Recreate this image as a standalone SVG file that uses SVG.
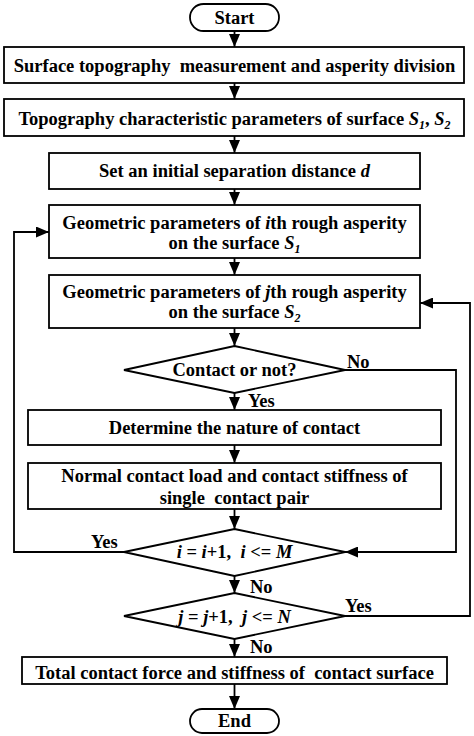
<svg xmlns="http://www.w3.org/2000/svg" width="474" height="736" viewBox="0 0 474 736">
<defs>
<style>
.b{fill:#fff;stroke:#000;stroke-width:1.8}
.t{font-family:"Liberation Serif","Times New Roman",serif;font-weight:bold;font-size:18.5px;fill:#000;text-anchor:middle}
.l{font-family:"Liberation Serif","Times New Roman",serif;font-weight:bold;font-size:18.5px;fill:#000}
.c{fill:none;stroke:#000;stroke-width:1.8}
.i{font-style:italic}
.s{font-size:12px;font-style:italic}
</style>
<marker id="ah" viewBox="0 0 13 11" refX="13" refY="5.5" markerWidth="13" markerHeight="11" markerUnits="userSpaceOnUse" orient="auto">
<path d="M0,0 L13,5.5 L0,11 z" fill="#000"/>
</marker>
</defs>
<rect width="474" height="736" fill="#fff"/>
<g id="connectors">
<line class="c" x1="234.5" y1="31" x2="234.5" y2="47" marker-end="url(#ah)"/>
<line class="c" x1="234.5" y1="83" x2="234.5" y2="99" marker-end="url(#ah)"/>
<line class="c" x1="234.5" y1="136" x2="234.5" y2="153" marker-end="url(#ah)"/>
<line class="c" x1="234.5" y1="189" x2="234.5" y2="205" marker-end="url(#ah)"/>
<line class="c" x1="234.5" y1="258" x2="234.5" y2="275" marker-end="url(#ah)"/>
<line class="c" x1="234.5" y1="328" x2="234.5" y2="346" marker-end="url(#ah)"/>
<line class="c" x1="234.5" y1="393" x2="234.5" y2="410" marker-end="url(#ah)"/>
<line class="c" x1="234.5" y1="445" x2="234.5" y2="463" marker-end="url(#ah)"/>
<line class="c" x1="234.5" y1="509" x2="234.5" y2="529" marker-end="url(#ah)"/>
<line class="c" x1="234.5" y1="576" x2="234.5" y2="593" marker-end="url(#ah)"/>
<line class="c" x1="234.5" y1="639" x2="234.5" y2="657" marker-end="url(#ah)"/>
<line class="c" x1="234.5" y1="684" x2="234.5" y2="709" marker-end="url(#ah)"/>
<polyline class="c" points="345,370 456,370 456,552 345,552" marker-end="url(#ah)"/>
<polyline class="c" points="124,552 14,552 14,232 49,232" marker-end="url(#ah)"/>
<polyline class="c" points="345,616 470,616 470,303 420,303" marker-end="url(#ah)"/>
<text class="l" x="347" y="368">No</text>
<text class="l" x="248" y="406.5">Yes</text>
<text class="l" x="91" y="548">Yes</text>
<text class="l" x="250" y="593">No</text>
<text class="l" x="345" y="612">Yes</text>
<text class="l" x="250" y="653">No</text>
</g>
<g id="start">
<rect class="b" x="190" y="4" width="89" height="27" rx="13.5"/>
<text class="t" x="234.5" y="23.5">Start</text>
</g>
<g id="n1">
<rect class="b" x="4" y="47" width="460" height="36"/>
<text class="t" x="234.5" y="71.5" xml:space="preserve">Surface topography  measurement and asperity division</text>
</g>
<g id="n2">
<rect class="b" x="4" y="99" width="460" height="37"/>
<text class="t" x="234.5" y="124.5">Topography characteristic parameters of surface <tspan class="i">S</tspan><tspan class="s" dy="4">1</tspan><tspan dy="-4">, </tspan><tspan class="i">S</tspan><tspan class="s" dy="4">2</tspan></text>
</g>
<g id="n3">
<rect class="b" x="49" y="153" width="371" height="36"/>
<text class="t" x="234.5" y="176.5">Set an initial separation distance <tspan class="i">d</tspan></text>
</g>
<g id="n4">
<rect class="b" x="49" y="205" width="371" height="53"/>
<text class="t" x="234.5" y="228.5">Geometric parameters of <tspan class="i">i</tspan>th rough asperity</text>
<text class="t" x="234.5" y="248.5">on the surface <tspan class="i">S</tspan><tspan class="s" dy="4">1</tspan></text>
</g>
<g id="n5">
<rect class="b" x="49" y="275" width="371" height="53"/>
<text class="t" x="234.5" y="298">Geometric parameters of <tspan class="i">j</tspan>th rough asperity</text>
<text class="t" x="234.5" y="318">on the surface <tspan class="i">S</tspan><tspan class="s" dy="4">2</tspan></text>
</g>
<g id="d1">
<polygon class="b" points="234.5,346 345,370 234.5,393 124,370"/>
<text class="t" x="234.5" y="375.5">Contact or not?</text>
</g>
<g id="n6">
<rect class="b" x="28" y="410" width="413" height="35"/>
<text class="t" x="234.5" y="434">Determine the nature of contact</text>
</g>
<g id="n7">
<rect class="b" x="28" y="463" width="413" height="46"/>
<text class="t" x="234.5" y="481.5">Normal contact load and contact stiffness of</text>
<text class="t" x="234.5" y="503.5" xml:space="preserve">single  contact pair</text>
</g>
<g id="d2">
<polygon class="b" points="234.5,529 345,552 234.5,576 124,552"/>
<text class="t" x="234.5" y="558" xml:space="preserve"><tspan class="i">i</tspan> = <tspan class="i">i</tspan>+1,  <tspan class="i">i</tspan> &lt;= <tspan class="i">M</tspan></text>
</g>
<g id="d3">
<polygon class="b" points="234.5,593 345,616 234.5,639 124,616"/>
<text class="t" x="234.5" y="622.5" xml:space="preserve"><tspan class="i">j</tspan> = <tspan class="i">j</tspan>+1,  <tspan class="i">j</tspan> &lt;= <tspan class="i">N</tspan></text>
</g>
<g id="n8">
<rect class="b" x="22" y="657" width="425" height="27"/>
<text class="t" x="234.5" y="678.5" xml:space="preserve">Total contact force and stiffness of  contact surface</text>
</g>
<g id="end">
<rect class="b" x="190" y="709" width="89" height="24" rx="12"/>
<text class="t" x="234.5" y="727">End</text>
</g>
</svg>
